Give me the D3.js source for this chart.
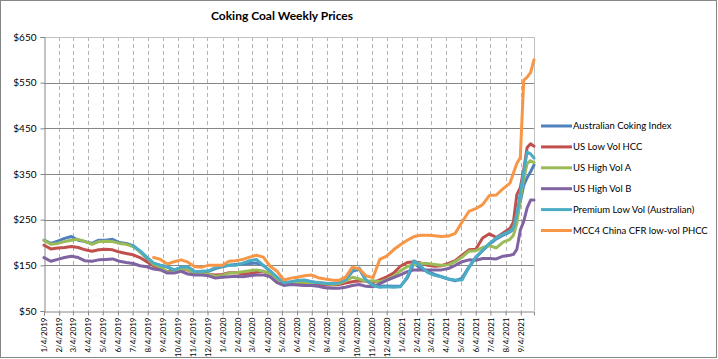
<!DOCTYPE html>
<html><head><meta charset="utf-8">
<script src="https://cdn.jsdelivr.net/npm/d3@7"></script>
<style>
body{margin:0;background:#fff}
svg{display:block}
text{font-family:Lato,"Open Sans",sans-serif;fill:#000}
</style>
</head><body>
<svg id="chart" width="718" height="359"></svg>
<script>
// ---------------- DATA ----------------
const dates = [
"2019-01-04","2019-01-18","2019-02-01","2019-02-15","2019-03-01","2019-03-15","2019-03-29","2019-04-12",
"2019-04-26","2019-05-10","2019-05-24","2019-06-07","2019-06-21","2019-07-05","2019-07-19","2019-08-02",
"2019-08-16","2019-08-30","2019-09-13","2019-09-27","2019-10-11","2019-10-25","2019-11-08","2019-11-22",
"2019-12-06","2019-12-20","2020-01-03","2020-01-17","2020-01-31","2020-02-14","2020-02-28","2020-03-13",
"2020-03-27","2020-04-10","2020-04-24","2020-05-08","2020-05-22","2020-06-05","2020-06-19","2020-07-03",
"2020-07-17","2020-07-31","2020-08-14","2020-08-28","2020-09-11","2020-09-25","2020-10-09","2020-10-23",
"2020-11-06","2020-11-20","2020-12-04","2020-12-18","2021-01-01","2021-01-15","2021-01-29","2021-02-12",
"2021-02-26","2021-03-12","2021-03-26","2021-04-09","2021-04-23","2021-05-07","2021-05-21","2021-06-04",
"2021-06-18","2021-07-02","2021-07-16","2021-07-30","2021-08-13","2021-08-20","2021-08-27","2021-09-03",
"2021-09-10","2021-09-17","2021-09-24","2021-10-01"
];

const australianCokingIndex = [
205,198,203,209,213,205,202,198,205,205,207,200,198,193,180,165,
154,150,146,139,145,146,136,136,137,143,147,150,152,153,154,155,150,137,
122,111,113,116,117,114,112,110,110,111,117,137,142,117,107,104,105,104,
104,122,155,142,136,130,125,120,116,122,146,167,182,196,208,216,223,
230,252,290,325,342,355,370
];
const usLowVolHCC = [
194,186,188,189,191,189,184,181,184,185,184,179,176,173,167,158,
149,143,136,138,142,140,132,132,130,129,130,134,134,131,132,135,137,130,
118,110,112,113,112,110,108,107,107,108,111,114,116,115,112,118,125,133,
148,156,158,155,150,148,149,154,160,172,184,185,210,219,211,221,231,
245,305,320,360,408,416,411
];
const usHighVolA = [
205,196,198,202,205,207,202,196,202,203,202,198,196,191,180,167,
152,146,136,135,143,141,132,132,130,126,128,133,134,136,138,140,137,132,
118,113,113,113,113,112,113,110,108,110,116,124,120,115,116,114,118,126,
138,147,152,154,154,152,150,151,158,168,181,182,189,193,188,201,207,
216,242,298,340,373,379,375
];
const usHighVolB = [
167,159,163,167,170,167,160,159,162,163,164,159,156,154,149,147,
142,140,133,133,137,131,129,129,127,122,124,125,126,125,127,129,129,125,
112,106,108,107,106,106,104,101,100,100,102,106,108,104,103,110,117,123,
129,136,140,140,140,140,140,143,150,158,162,161,165,165,164,170,172,
174,185,227,246,276,293,293
];
const premiumLowVolAus = [
null,null,null,null,null,null,null,null,null,null,null,null,null,193,182,168,
155,150,147,140,146,147,136,137,138,145,148,150,150,155,160,163,150,138,
124,112,114,117,118,114,112,111,110,112,118,140,144,118,106,102,103,102,
103,125,160,148,134,128,125,120,118,118,145,168,183,198,210,218,225,
232,262,308,355,398,394,385
];
const mcc4ChinaCFR = [
null,null,null,null,null,null,null,null,null,null,null,null,null,null,null,null,
167,163,153,158,162,157,147,146,150,150,150,159,160,163,168,172,168,148,
137,118,122,124,127,129,123,120,118,117,124,146,142,127,123,163,170,184,
195,205,213,216,216,215,213,214,220,245,268,274,283,303,304,318,330,
352,373,386,555,562,572,600
];

const seriesNames = ["Australian Coking Index","US Low Vol HCC","US High Vol A","US High Vol B","Premium Low Vol (Australian)","MCC4 China CFR low-vol PHCC"];
const seriesValues = [australianCokingIndex, usLowVolHCC, usHighVolA, usHighVolB, premiumLowVolAus, mcc4ChinaCFR];
const seriesColors = ["#4F81BD","#C0504D","#9BBB59","#8064A2","#4BACC6","#F79646"];

const yTickValues = [50,150,250,350,450,550,650];
const xTickLabels = [
"1/4/2019","2/4/2019","3/4/2019","4/4/2019","5/4/2019","6/4/2019","7/4/2019","8/4/2019","9/4/2019","10/4/2019","11/4/2019","12/4/2019",
"1/4/2020","2/4/2020","3/4/2020","4/4/2020","5/4/2020","6/4/2020","7/4/2020","8/4/2020","9/4/2020","10/4/2020","11/4/2020","12/4/2020",
"1/4/2021","2/4/2021","3/4/2021","4/4/2021","5/4/2021","6/4/2021","7/4/2021","8/4/2021","9/4/2021"
];
const titleText = "Coking Coal Weekly Prices";

// ---------------- CHART ----------------
const svg = d3.select("#chart");
const parseDate = d3.timeParse("%Y-%m-%d");
const parseTick = d3.timeParse("%m/%d/%Y");
const dateObjs = dates.map(parseDate);
const tickDates = xTickLabels.map(parseTick);

const plot = {left:44, right:534, top:37, bottom:311};
const x = d3.scaleTime().domain([dateObjs[0], dateObjs[dateObjs.length-1]]).range([plot.left, plot.right]);
const y = d3.scaleLinear().domain([50,650]).range([plot.bottom, plot.top]);

// outer border
svg.append("rect").attr("x",0.5).attr("y",0.5).attr("width",716).attr("height",357)
  .attr("fill","#fff").attr("stroke","#868686").attr("stroke-width",1);

// title
svg.append("text").attr("x",282).attr("y",20).attr("text-anchor","middle")
  .style("font-size","12px").style("font-weight","700").text(titleText);

// vertical dashed gridlines
svg.append("g").selectAll("line").data(tickDates.slice(1)).join("line")
  .attr("x1",d=>Math.round(x(d))+0.5).attr("x2",d=>Math.round(x(d))+0.5)
  .attr("y1",plot.top).attr("y2",plot.bottom)
  .attr("stroke","#b3b3b3").attr("stroke-width",1).attr("stroke-dasharray","4,3");

// horizontal gridlines
svg.append("g").selectAll("line").data(yTickValues.filter(v=>v>50 && v<650)).join("line")
  .attr("x1",plot.left).attr("x2",plot.right)
  .attr("y1",d=>Math.round(y(d))+0.5).attr("y2",d=>Math.round(y(d))+0.5)
  .attr("stroke","#868686").attr("stroke-width",1);

// plot area top/right border
svg.append("path")
  .attr("d",`M${plot.left},${plot.top+0.5}H${plot.right+0.5}V${plot.bottom}`)
  .attr("fill","none").attr("stroke","#bfbfbf").attr("stroke-width",1);

// y axis
const yAxis = svg.append("g").attr("transform",`translate(${plot.left+0.5},0)`)
  .call(d3.axisLeft(y).tickValues(yTickValues).tickFormat(d=>"$"+d).tickSize(4).tickPadding(4));
yAxis.select(".domain").attr("stroke","#868686");
yAxis.selectAll(".tick line").attr("stroke","#868686");
yAxis.selectAll("text").style("font-size","10px").attr("fill","#000");

// x axis
const xAxis = svg.append("g").attr("transform",`translate(0,${plot.bottom+0.5})`)
  .call(d3.axisBottom(x).tickValues(tickDates).tickFormat(d3.timeFormat("%-m/%-d/%Y")).tickSize(4));
xAxis.select(".domain").attr("stroke","#868686");
xAxis.selectAll(".tick line").attr("stroke","#868686");
xAxis.selectAll("text").style("font-size","8px").attr("fill","#000")
  .attr("y",0).attr("x",-6).attr("dy","0.35em")
  .attr("transform","rotate(-90)").style("text-anchor","end");

// lines
const lineGen = d3.line().defined(d=>d.v!=null).x(d=>x(d.date)).y(d=>y(d.v)).curve(d3.curveLinear);
const gLines = svg.append("g");
seriesValues.forEach((vals,i)=>{
  const pts = vals.map((v,j)=>({date:dateObjs[j], v:v}));
  gLines.append("path").datum(pts).attr("d",lineGen)
    .attr("fill","none").attr("stroke",seriesColors[i]).attr("stroke-width",3)
    .attr("stroke-linejoin","round").attr("stroke-linecap","round");
});

// legend
const legend = svg.append("g");
seriesNames.forEach((name,i)=>{
  const ly = 126 + i*20.9;
  legend.append("line").attr("x1",541).attr("x2",572).attr("y1",ly).attr("y2",ly)
    .attr("stroke",seriesColors[i]).attr("stroke-width",3);
  legend.append("text").attr("x",573).attr("y",ly).attr("dy","0.35em")
    .style("font-size","9.5px").text(name);
});
</script>
</body></html>
